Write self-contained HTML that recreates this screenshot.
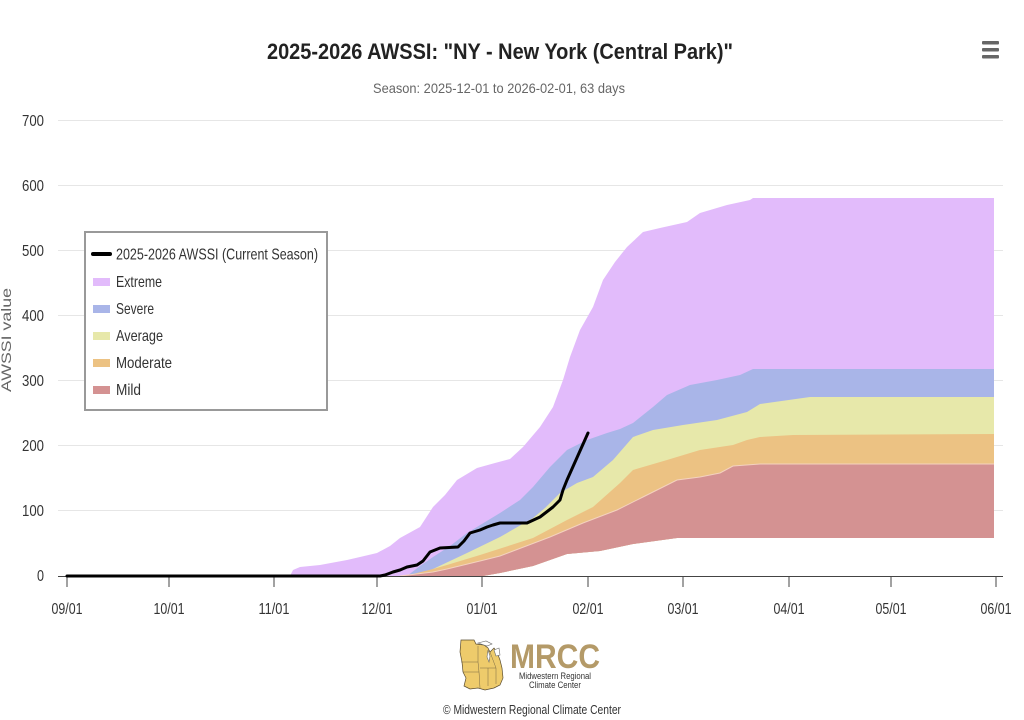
<!DOCTYPE html>
<html>
<head>
<meta charset="utf-8">
<style>
  html, body { margin: 0; padding: 0; background: #ffffff; }
  body { width: 1024px; height: 720px; overflow: hidden; }
  svg { display: block; }
  text { font-family: "Liberation Sans", Arial, sans-serif; }
</style>
</head>
<body>
<svg width="1024" height="720" viewBox="0 0 1024 720" xmlns="http://www.w3.org/2000/svg">
  <rect x="0" y="0" width="1024" height="720" fill="#ffffff"/>

  <!-- Title -->
  <text x="500" y="59" font-size="22" font-weight="bold" fill="#222" text-anchor="middle" textLength="466" lengthAdjust="spacingAndGlyphs">2025-2026 AWSSI: "NY - New York (Central Park)"</text>
  <text x="499" y="93" font-size="14" fill="#666" text-anchor="middle" textLength="252" lengthAdjust="spacingAndGlyphs">Season: 2025-12-01 to 2026-02-01, 63 days</text>

  <!-- Hamburger -->
  <rect x="982" y="41" width="17" height="3.5" rx="1" fill="#666"/>
  <rect x="982" y="48" width="17" height="3.5" rx="1" fill="#666"/>
  <rect x="982" y="55" width="17" height="3.5" rx="1" fill="#666"/>

  <!-- Gridlines -->
  <g stroke="#e6e6e6" stroke-width="1">
    <line x1="58" y1="120.5" x2="1003" y2="120.5"/>
    <line x1="58" y1="185.5" x2="1003" y2="185.5"/>
    <line x1="58" y1="250.5" x2="1003" y2="250.5"/>
    <line x1="58" y1="315.5" x2="1003" y2="315.5"/>
    <line x1="58" y1="380.5" x2="1003" y2="380.5"/>
    <line x1="58" y1="445.5" x2="1003" y2="445.5"/>
    <line x1="58" y1="510.5" x2="1003" y2="510.5"/>
  </g>

  <!-- Y labels -->
  <g font-size="16" fill="#333" text-anchor="end">
    <text x="44" y="126" textLength="22" lengthAdjust="spacingAndGlyphs">700</text>
    <text x="44" y="191" textLength="22" lengthAdjust="spacingAndGlyphs">600</text>
    <text x="44" y="256" textLength="22" lengthAdjust="spacingAndGlyphs">500</text>
    <text x="44" y="321" textLength="22" lengthAdjust="spacingAndGlyphs">400</text>
    <text x="44" y="386" textLength="22" lengthAdjust="spacingAndGlyphs">300</text>
    <text x="44" y="451" textLength="22" lengthAdjust="spacingAndGlyphs">200</text>
    <text x="44" y="516" textLength="22" lengthAdjust="spacingAndGlyphs">100</text>
    <text x="44" y="581" textLength="7" lengthAdjust="spacingAndGlyphs">0</text>
  </g>

  <!-- Y axis title -->
  <text transform="translate(11,340) rotate(-90)" font-size="14" fill="#666" text-anchor="middle" textLength="104" lengthAdjust="spacingAndGlyphs">AWSSI value</text>

  <!-- Bands -->
  <!-- Extreme -->
  <path fill="#e2bbfb" d="M290,576 L293,570 L300,567 L320,565 L347,560 L360,557 L377,553 L390,546 L400,538 L420,527 L433,507 L445,495 L457,480 L477,468 L495,463 L510,459 L523,447 L540,427 L553,407 L563,380 L570,357 L580,330 L593,307 L603,280 L615,262 L627,247 L643,232 L660,228 L687,222 L700,213 L727,205 L750,200 L753,198 L994,198 L994,538 L677,538 L633,544 L600,551 L567,554 L533,566 L500,573 L483,576 Z"/>
  <!-- Severe -->
  <path fill="#a9b5e8" d="M407,576 L420,566 L433,557 L450,546 L467,533 L500,513 L520,500 L533,487 L550,467 L567,450 L587,440 L607,433 L620,429 L633,423 L653,407 L667,395 L690,385 L717,380 L740,375 L753,369 L994,369 L994,538 L677,538 L633,544 L600,551 L567,554 L533,566 L500,573 L483,576 Z"/>
  <!-- Average -->
  <path fill="#e7e8aa" d="M420,576 L433,569 L450,561 L467,553 L500,537 L533,518 L545,508 L560,493 L577,483 L593,477 L613,460 L633,437 L653,430 L683,425 L717,420 L747,412 L760,404 L810,397 L994,397 L994,538 L677,538 L633,544 L600,551 L567,554 L533,566 L500,573 L483,576 Z"/>
  <!-- Moderate -->
  <path fill="#ecc283" d="M405,576 L433,569 L447,565 L480,555 L533,538 L567,520 L593,507 L620,483 L633,470 L667,460 L700,450 L733,445 L747,440 L760,437 L793,435 L994,434 L994,538 L677,538 L633,544 L600,551 L567,554 L533,566 L500,573 L483,576 Z"/>
  <!-- Mild -->
  <path fill="#d49292" d="M400,576 L433,572 L447,569 L480,561 L500,556 L550,537 L583,523 L617,510 L643,497 L677,480 L700,477 L720,473 L733,466 L760,464 L994,464 L994,538 L677,538 L633,544 L600,551 L567,554 L533,566 L500,573 L483,576 Z"/>
  <path fill="none" stroke="#f4d2bf" stroke-width="1" d="M400,576 L433,572 L447,569 L480,561 L500,556 L550,537 L583,523 L617,510 L643,497 L677,480 L700,477 L720,473 L733,466 L760,464 L994,464"/>

  <!-- X axis -->
  <line x1="58" y1="576.5" x2="1003" y2="576.5" stroke="#444" stroke-width="1"/>
  <g stroke="#444" stroke-width="1">
    <line x1="67" y1="576" x2="67" y2="587"/>
    <line x1="169" y1="576" x2="169" y2="587"/>
    <line x1="274" y1="576" x2="274" y2="587"/>
    <line x1="377" y1="576" x2="377" y2="587"/>
    <line x1="482" y1="576" x2="482" y2="587"/>
    <line x1="588" y1="576" x2="588" y2="587"/>
    <line x1="683" y1="576" x2="683" y2="587"/>
    <line x1="789" y1="576" x2="789" y2="587"/>
    <line x1="891" y1="576" x2="891" y2="587"/>
    <line x1="996" y1="576" x2="996" y2="587"/>
  </g>
  <g font-size="16" fill="#333" text-anchor="middle">
    <text x="67" y="614" textLength="31" lengthAdjust="spacingAndGlyphs">09/01</text>
    <text x="169" y="614" textLength="31" lengthAdjust="spacingAndGlyphs">10/01</text>
    <text x="274" y="614" textLength="31" lengthAdjust="spacingAndGlyphs">11/01</text>
    <text x="377" y="614" textLength="31" lengthAdjust="spacingAndGlyphs">12/01</text>
    <text x="482" y="614" textLength="31" lengthAdjust="spacingAndGlyphs">01/01</text>
    <text x="588" y="614" textLength="31" lengthAdjust="spacingAndGlyphs">02/01</text>
    <text x="683" y="614" textLength="31" lengthAdjust="spacingAndGlyphs">03/01</text>
    <text x="789" y="614" textLength="31" lengthAdjust="spacingAndGlyphs">04/01</text>
    <text x="891" y="614" textLength="31" lengthAdjust="spacingAndGlyphs">05/01</text>
    <text x="996" y="614" textLength="31" lengthAdjust="spacingAndGlyphs">06/01</text>
  </g>

  <!-- Current season line -->
  <path fill="none" stroke="#000" stroke-width="3" stroke-linejoin="round" stroke-linecap="round" d="M67,576 L380,576 L385,575 L393,572 L400,570 L407,567 L417,565 L423,561 L430,552 L440,548 L458,547 L464,541 L470,533 L480,530 L487,527 L493,525 L500,523 L527,523 L540,517 L553,507 L560,500 L563,490 L567,480 L588,433"/>

  <!-- Legend -->
  <rect x="85" y="232" width="242" height="178" fill="#ffffff" stroke="#999" stroke-width="2"/>
  <line x1="93" y1="254" x2="110" y2="254" stroke="#000" stroke-width="4" stroke-linecap="round"/>
  <rect x="93" y="278" width="17" height="8" fill="#e2bbfb"/>
  <rect x="93" y="305" width="17" height="8" fill="#a9b5e8"/>
  <rect x="93" y="332" width="17" height="8" fill="#e7e8aa"/>
  <rect x="93" y="359" width="17" height="8" fill="#ecc283"/>
  <rect x="93" y="386" width="17" height="8" fill="#d49292"/>
  <g font-size="16" fill="#333">
    <text x="116" y="259.5" textLength="202" lengthAdjust="spacingAndGlyphs">2025-2026 AWSSI (Current Season)</text>
    <text x="116" y="287" textLength="46" lengthAdjust="spacingAndGlyphs">Extreme</text>
    <text x="116" y="314" textLength="38" lengthAdjust="spacingAndGlyphs">Severe</text>
    <text x="116" y="341" textLength="47" lengthAdjust="spacingAndGlyphs">Average</text>
    <text x="116" y="368" textLength="56" lengthAdjust="spacingAndGlyphs">Moderate</text>
    <text x="116" y="395" textLength="25" lengthAdjust="spacingAndGlyphs">Mild</text>
  </g>

  <!-- Logo -->
  <g>
    <path fill="#eecb6b" stroke="#5a4c30" stroke-width="0.7" d="M461,640 L474,640 L476,644 L484,645 L488,648 L490,652 L494,648 L497,652 L500,660 L502,668 L503,678 L500,685 L494,688 L485,690 L478,688 L470,689 L464,686 L466,678 L463,672 L462,662 L460,652 Z"/>
    <g fill="none" stroke="#7a6a45" stroke-width="0.5">
      <path d="M461,662 L478,662 L478,646"/>
      <path d="M463,672 L479,672 L478,662"/>
      <path d="M479,672 L480,688"/>
      <path d="M480,668 L488,668 L488,686"/>
      <path d="M488,668 L496,668 L496,684"/>
      <path d="M490,652 L493,660 L496,668"/>
    </g>
    <g fill="#ffffff" stroke="#6b6b6b" stroke-width="0.6">
      <path d="M478,643 L486,641 L492,644 L487,646 Z"/>
      <path d="M488,650 L490,656 L489,662 L487,657 Z"/>
      <path d="M494,650 L499,648 L500,655 L496,656 Z"/>
    </g>
    <text x="510" y="668" font-size="34" font-weight="bold" fill="#b49a68" textLength="90" lengthAdjust="spacingAndGlyphs">MRCC</text>
    <text x="555" y="679" font-size="9" fill="#333" text-anchor="middle" textLength="72" lengthAdjust="spacingAndGlyphs">Midwestern Regional</text>
    <text x="555" y="688" font-size="9" fill="#333" text-anchor="middle" textLength="52" lengthAdjust="spacingAndGlyphs">Climate Center</text>
  </g>
  <text x="532" y="714" font-size="13" fill="#333" text-anchor="middle" textLength="178" lengthAdjust="spacingAndGlyphs">© Midwestern Regional Climate Center</text>
</svg>
</body>
</html>
